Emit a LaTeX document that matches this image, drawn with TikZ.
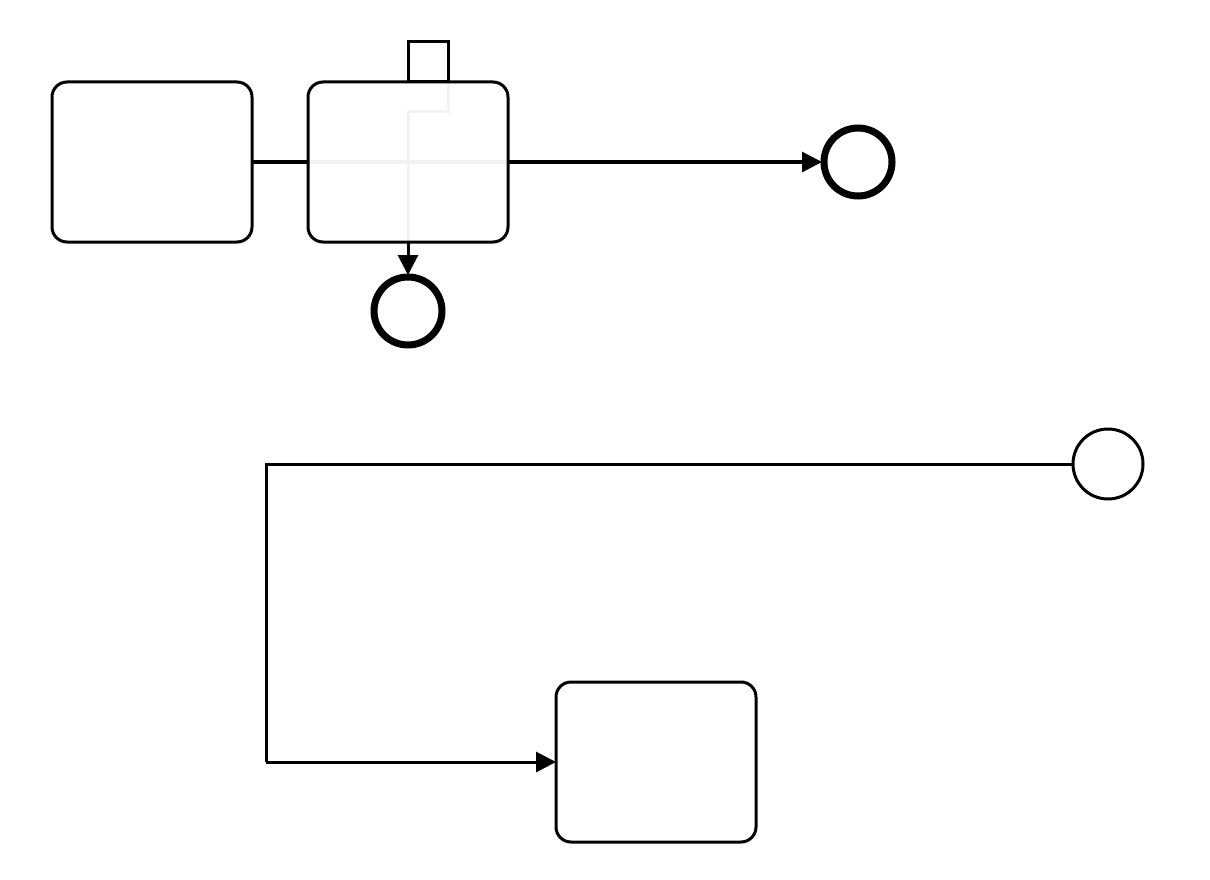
\documentclass[tikz,border=0pt]{standalone}
\usetikzlibrary{arrows.meta}
\begin{document}
\begin{tikzpicture}[x=1pt,y=-1pt,
  task/.style={draw,line width=3pt,rounded corners=15pt,fill=white},
  conn/.style={line width=3pt,-{Triangle[length=20pt,width=20pt]}},
  plain/.style={line width=3pt}]
\useasboundingbox (0,0) rectangle (1210,880);
\coordinate (b1r) at (252,162);
\coordinate (c1w) at (822,162);
\coordinate (sq) at (448,82);
\coordinate (k1) at (448,112);
\coordinate (k2) at (408,112);
\coordinate (c2n) at (408,275);
\coordinate (c3w) at (1072,464);
\coordinate (k3) at (266,464);
\coordinate (k4) at (266,762);
\coordinate (b3w) at (556,762);
% connectors
\draw[conn] (b1r) -- (c1w);
\draw[conn] (sq) -- (k1) -- (k2) -- (c2n);
\draw[plain] (c3w) -- (k3) -- (k4);
\draw[conn] (k4) -- (b3w);
% nodes
\draw[task] (52,82) rectangle (252,242);
\draw[plain,fill=white] (408,42) rectangle (448,82);
\draw[task,fill opacity=0.95] (308,82) rectangle (508,242);
\draw[task] (556,682) rectangle (756,842);
\node[circle,draw,line width=7pt,minimum size=68pt,inner sep=0,fill=white] (c1) at (858,162) {};
\node[circle,draw,line width=7pt,minimum size=68pt,inner sep=0,fill=white] (c2) at (408,311) {};
\node[circle,draw,line width=3pt,minimum size=70pt,inner sep=0,fill=white] (c3) at (1108,464) {};
\end{tikzpicture}
\end{document}
